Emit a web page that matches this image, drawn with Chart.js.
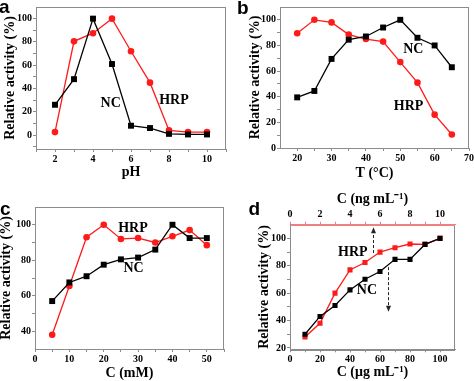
<!DOCTYPE html>
<html><head><meta charset="utf-8">
<script src="https://cdn.jsdelivr.net/npm/chart.js@4.4.0/dist/chart.umd.min.js"></script>
<style>
html,body{margin:0;padding:0;background:#fff;width:474px;height:381px;overflow:hidden;position:relative}
canvas{position:absolute}
</style></head><body>
<canvas id="ca" width="237" height="190" style="left:0;top:0;width:237px;height:190px"></canvas>
<canvas id="cb" width="237" height="190" style="left:237px;top:0;width:237px;height:190px"></canvas>
<canvas id="cc" width="237" height="191" style="left:0;top:190px;width:237px;height:191px"></canvas>
<canvas id="cd" width="237" height="191" style="left:237px;top:190px;width:237px;height:191px"></canvas>
<script>
// ---- data ----
const phValues = [2, 3, 4, 5, 6, 7, 8, 9, 10];
const phNC  = [26, 48, 100, 61, 8, 6, 1, 0.5, 0.5];
const phHRP = [2.5, 80.5, 87.5, 100, 72, 45, 4, 2.5, 2.5];

const tempValues = [20, 25, 30, 35, 40, 45, 50, 55, 60, 65];
const tempNC  = [39.5, 44.5, 69.5, 84.5, 87, 94, 100, 86, 80, 63];
const tempHRP = [89.5, 100, 98, 88.5, 85, 83, 67, 51, 26, 10.5];

const concValues = [5, 10, 15, 20, 25, 30, 35, 40, 45, 50];
const concNC  = [57, 67.5, 71, 77.5, 80.5, 81.5, 86, 100, 92.5, 92.5];
const concHRP = [38, 65.5, 93, 100, 92, 92.5, 90, 93.5, 97, 88.5];

const ugValues = [10, 20, 30, 40, 50, 60, 70, 80, 90, 100];
const ugNC  = [30, 43, 51, 62.4, 70.2, 75.8, 84.7, 84.7, 95.6, 100];
const ugHRP = [28, 38, 60, 77, 82.4, 90, 93.2, 95.9, 95.6, 100];

// tick labels
const phTicks = [2, 4, 6, 8, 10];
const phMinor = [1, 3, 5, 7, 9, 11];
const actTicks = [0, 20, 40, 60, 80, 100];
const actMinorA = [-10, 10, 30, 50, 70, 90];
const actMinorB = [10, 30, 50, 70, 90];
const tempTicks = [20, 30, 40, 50, 60, 70];
const tempMinor = [25, 35, 45, 55, 65];
const mmTicks = [0, 10, 20, 30, 40, 50];
const mmMinor = [5, 15, 25, 35, 45, 55];
const actTicksC = [40, 60, 80, 100];
const actMinorC = [50, 70, 90];
const ugTicks = [0, 20, 40, 60, 80, 100];
const ugMinor = [10, 30, 50, 70, 90];
const actTicksD = [20, 40, 60, 80, 100];
const actMinorD = [30, 50, 70, 90];
const ngTicks = [0, 2, 4, 6, 8, 10];
const ngMinor = [1, 3, 5, 7, 9];

// ---- styling helpers ----
const SERIF = "'Liberation Serif','Times New Roman',serif";
const SANS = "'Liberation Sans',Arial,sans-serif";
const RED = '#ff1a1a';
const GRAY = '#8c8c8c';

function pts(xs, ys) { return xs.map((x, i) => ({x: x, y: ys[i]})); }

function axis(pos, min, max, major, minor, title, titlePad, size, borderColor) {
  const horiz = (pos === 'bottom' || pos === 'top');
  const all = major.concat(minor).sort((a, b) => a - b);
  return {
    type: 'linear', position: pos, min: min, max: max,
    afterBuildTicks: s => { s.ticks = all.map(v => ({value: v})); },
    afterFit: s => {
      if (horiz) s.height = size; else s.width = size;
      s.paddingLeft = 0; s.paddingRight = 0; s.paddingTop = 0; s.paddingBottom = 0;
    },
    ticks: {
      autoSkip: false, maxRotation: 0, minRotation: 0, padding: 1, color: '#000',
      font: {family: SERIF, weight: 'bold', size: 10},
      callback: v => major.includes(v) ? String(v) : ''
    },
    grid: {drawOnChartArea: false, drawTicks: true, tickLength: 3, color: borderColor || GRAY, lineWidth: 1},
    border: {display: true, color: borderColor || GRAY, width: 1},
    title: {display: true, text: title, color: '#000',
      font: {family: SERIF, weight: 'bold', size: 14}, padding: titlePad}
  };
}

function overlay(opts) {
  return {
    id: 'overlay',
    afterDraw(chart) {
      const ctx = chart.ctx, a = chart.chartArea;
      ctx.save();
      ctx.strokeStyle = GRAY; ctx.lineWidth = 1;
      ctx.strokeRect(Math.round(a.left) + 0.5, Math.round(a.top) + 0.5,
        Math.round(a.right - a.left) - 1, Math.round(a.bottom - a.top));
      if (opts.redTop) {
        ctx.strokeStyle = '#f08080';
        ctx.beginPath(); ctx.moveTo(a.left, Math.round(a.top) + 0.5); ctx.lineTo(a.right, Math.round(a.top) + 0.5); ctx.stroke();
      }
      const sx = chart.scales.x, sy = chart.scales.y;
      ctx.fillStyle = '#000';
      ctx.font = 'bold 14px ' + SERIF;
      ctx.textAlign = 'center'; ctx.textBaseline = 'middle';
      opts.labels.forEach(l => ctx.fillText(l.t, sx.getPixelForValue(l.x), sy.getPixelForValue(l.y)));
      ctx.font = 'bold 19px ' + SANS;
      ctx.textAlign = 'left'; ctx.textBaseline = 'alphabetic';
      ctx.fillText(opts.letter, opts.lx, opts.ly);
      (opts.arrows || []).forEach(ar => {
        const x = Math.round(sx.getPixelForValue(ar.x)) + 0.5;
        const y1 = sy.getPixelForValue(ar.y1), y2 = sy.getPixelForValue(ar.y2);
        const dir = y2 > y1 ? 1 : -1;
        ctx.strokeStyle = '#222'; ctx.lineWidth = 1; ctx.setLineDash([3, 2]);
        ctx.beginPath(); ctx.moveTo(x, y1); ctx.lineTo(x, y2 - dir * 5); ctx.stroke();
        ctx.setLineDash([]);
        ctx.fillStyle = '#222';
        ctx.beginPath(); ctx.moveTo(x, y2); ctx.lineTo(x - 2.5, y2 - dir * 6); ctx.lineTo(x + 2.5, y2 - dir * 6); ctx.closePath(); ctx.fill();
      });
      ctx.restore();
    }
  };
}

function ds(data, color, style, r) {
  return {data: data, borderColor: color, backgroundColor: color, borderWidth: 1.3,
    pointStyle: style, pointRadius: r, pointHoverRadius: r, pointBorderWidth: 0, tension: 0, fill: false};
}

function make(id, datasets, scales, padding, ov) {
  return new Chart(document.getElementById(id), {
    type: 'line',
    data: {datasets: datasets},
    options: {
      responsive: false, animation: false, devicePixelRatio: 1,
      layout: {padding: padding},
      plugins: {legend: {display: false}, tooltip: {enabled: false}},
      scales: scales
    },
    plugins: [overlay(ov)]
  });
}

// Panel a
make('ca', [ds(pts(phValues, phNC), '#000', 'rect', 4.2), ds(pts(phValues, phHRP), RED, 'circle', 3.3)], {
  x: axis('bottom', 1, 11, phTicks, phMinor, 'pH', {bottom: 9}, 41),
  y: axis('left', -12, 110, actTicks, actMinorA, 'Relative activity (%)', {top: 2}, 36)
}, {top: 7, right: 11, left: 0, bottom: 0},
{letter: 'a', lx: -1, ly: 13, labels: [{t: 'NC', x: 4.93, y: 27}, {t: 'HRP', x: 8.26, y: 29.7}]});

// Panel b
make('cb', [ds(pts(tempValues, tempNC), '#000', 'rect', 4.2), ds(pts(tempValues, tempHRP), RED, 'circle', 3.3)], {
  x: axis('bottom', 15, 70, tempTicks, tempMinor, 'T (°C)', {bottom: 8}, 42),
  y: axis('left', 0, 110, actTicks, actMinorB, 'Relative activity (%)', {top: 10}, 43)
}, {top: 7, right: 5, left: 0, bottom: 0},
{letter: 'b', lx: 0, ly: 13.5, labels: [{t: 'NC', x: 53.8, y: 77.3}, {t: 'HRP', x: 52.4, y: 32.8}]});

// Panel c
make('cc', [ds(pts(concValues, concNC), '#000', 'rect', 4.2), ds(pts(concValues, concHRP), RED, 'circle', 3.3)], {
  x: axis('bottom', 0, 55, mmTicks, mmMinor, 'C (mM)', {bottom: -1}, 32),
  y: axis('left', 30, 110, actTicksC, actMinorC, 'Relative activity (%)', {top: -2}, 35)
}, {top: 17, right: 13, left: 0, bottom: 0},
{letter: 'c', lx: 0, ly: 25, labels: [{t: 'HRP', x: 28.5, y: 98.1}, {t: 'NC', x: 28.7, y: 75.3}]});

// Panel d
make('cd', [ds(pts(ugValues, ugNC), '#000', 'rect', 3.6), ds(pts(ugValues, ugHRP), RED, 'rect', 3.6)], {
  x: axis('bottom', 0, 110, ugTicks, ugMinor, 'C (μg mL⁻¹)', {bottom: 0}, 31.7),
  x2: axis('top', 0, 11, ngTicks, ngMinor, 'C (ng mL⁻¹)', {top: 1}, 34.7, '#f08080'),
  y: axis('left', 19, 110, actTicksD, actMinorD, 'Relative activity (%)', {top: 19}, 53)
}, {top: 0, right: 19, left: 0, bottom: 0},
{letter: 'd', lx: 11.5, ly: 25, redTop: true,
 labels: [{t: 'HRP', x: 41.9, y: 89.7}, {t: 'NC', x: 51.3, y: 61.7}],
 arrows: [{x: 55.3, y1: 89.3, y2: 108.2}, {x: 65.1, y1: 79, y2: 46.4}]});
</script>
</body></html>
